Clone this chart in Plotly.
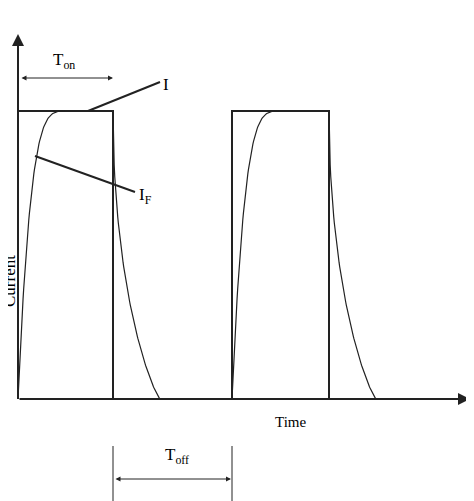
import numpy as np
import plotly.graph_objects as go

# Schematic data (x in time units, y in current units)
pulse_start = [18, 232]
pulse_end = [113, 329]
pulse_level = 1.0
rise_len = 50      # time for I_F to reach the level
fall_len = 47      # time for I_F to decay to zero
rise_power = 4
fall_power = 1.2

fig = go.Figure()
black = "#222"
for s, e in zip(pulse_start, pulse_end):
    fig.add_trace(go.Scatter(x=[s, s, e, e], y=[0, pulse_level, pulse_level, 0],
                             mode="lines", line=dict(color=black, width=2), hoverinfo="skip"))
    u = np.linspace(0, 1, 80)
    xr = s + u * rise_len
    yr = pulse_level * (1 - (1 - u) ** rise_power)
    xr = np.append(xr, e); yr = np.append(yr, pulse_level)
    fig.add_trace(go.Scatter(x=xr, y=yr, mode="lines", line=dict(color=black, width=1.2), hoverinfo="skip"))
    xf = e + u * fall_len
    yf = pulse_level * (1 - np.sqrt(u)) ** fall_power
    fig.add_trace(go.Scatter(x=xf, y=yf, mode="lines", line=dict(color=black, width=1.2), hoverinfo="skip"))

OFF = 8  # page body margin
ppu = 288.0
y_top = (383 + OFF) / ppu
y_bot = -(501 - 383 - OFF) / ppu
def py(p):
    return (383 - p) / ppu

font = dict(family="Liberation Serif", size=17, color="black")
ann = []
ann.append(dict(x=470, y=0, ax=18, ay=0, xref="x", yref="y", axref="x", ayref="y",
                showarrow=True, arrowhead=2, arrowsize=1.2, arrowwidth=2, arrowcolor=black, text=""))
ann.append(dict(x=18, y=py(18), ax=18, ay=0, xref="x", yref="y", axref="x", ayref="y",
                showarrow=True, arrowhead=2, arrowsize=1.2, arrowwidth=2, arrowcolor=black, text=""))
ann.append(dict(x=113, y=py(62), ax=20, ay=py(62), xref="x", yref="y", axref="x", ayref="y",
                showarrow=True, arrowhead=2, startarrowhead=2, arrowside="end+start",
                arrowwidth=1, arrowcolor=black, text=""))
ann.append(dict(x=64, y=py(45), text="T<sub>on</sub>", showarrow=False, font=font))
ann.append(dict(x=231, y=py(463), ax=114, ay=py(463), xref="x", yref="y", axref="x", ayref="y",
                showarrow=True, arrowhead=2, startarrowhead=2, arrowside="end+start",
                arrowwidth=1, arrowcolor=black, text=""))
ann.append(dict(x=177, y=py(440), text="T<sub>off</sub>", showarrow=False, font=font))
ann.append(dict(x=166, y=py(68), text="I", showarrow=False, font=font))
ann.append(dict(x=137, y=py(180), text="I<sub>F</sub>", showarrow=False, font=font, xanchor="left"))
ann.append(dict(x=290, y=py(406), text="Time", showarrow=False,
                font=dict(family="Liberation Serif", size=15, color="black")))
ann.append(dict(x=9, y=py(265), text="Current", textangle=-90, showarrow=False,
                font=dict(family="Liberation Serif", size=17, color="black")))

shapes = [
    dict(type="line", x0=88, y0=py(95), x1=160, y1=py(66), line=dict(color=black, width=2)),
    dict(type="line", x0=35, y0=py(140), x1=135, y1=py(176), line=dict(color=black, width=2)),
    dict(type="line", x0=113, y0=py(430), x1=113, y1=py(501), line=dict(color=black, width=1)),
    dict(type="line", x0=232, y0=py(430), x1=232, y1=py(501), line=dict(color=black, width=1)),
]

fig.update_layout(width=474, height=501, margin=dict(l=0, r=0, t=0, b=0),
                  plot_bgcolor="white", paper_bgcolor="white", showlegend=False,
                  annotations=ann, shapes=shapes,
                  xaxis=dict(range=[OFF, 474 + OFF], visible=False),
                  yaxis=dict(range=[y_bot, y_top], visible=False))
fig.write_html("out.html")
